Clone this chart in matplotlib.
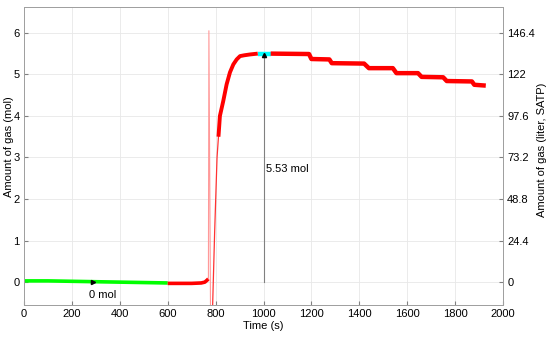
import matplotlib.pyplot as plt
import matplotlib

plt.rcParams['font.family'] = ['Liberation Sans', 'DejaVu Sans']
plt.rcParams['font.size'] = 8

# green baseline (before the valve opens)
green_t = [0, 100, 200, 300, 400, 500, 600]
green_v = [0.03, 0.03, 0.02, 0.01, 0.0, -0.01, -0.02]

# red baseline 600-770 s
base_t = [600, 650, 700, 740, 755, 765, 770]
base_v = [-0.03, -0.03, -0.03, -0.02, 0.0, 0.05, 0.08]

# pale spike around 770 s
spike_t = [770, 772, 779]
spike_v = [0.08, 6.05, -0.9]

# thin rise from below the axis
rise_t = [786, 796, 806, 818, 832]
rise_v = [-0.9, 1.2, 3.0, 4.0, 4.36]

# thick red curve after the rise, with steps
curve_t = [812, 818, 832, 846, 860, 874, 888, 902, 920, 944, 976]
curve_v = [3.5, 4.0, 4.36, 4.76, 5.05, 5.24, 5.36, 5.44, 5.46, 5.48, 5.5]

cyan_t = [976, 1030]
cyan_v = [5.5, 5.5]

step_t = [1030, 1190, 1200, 1275, 1285, 1420, 1440, 1540, 1555, 1645,
          1660, 1750, 1765, 1870, 1880, 1928]
step_v = [5.5, 5.49, 5.37, 5.36, 5.27, 5.26, 5.15, 5.15, 5.03, 5.03,
          4.94, 4.93, 4.84, 4.83, 4.75, 4.73]

# conversion mol -> liter at SATP
satp = 24.4
right_ticks = ["0", "24.4", "48.8", "73.2", "97.6", "122", "146.4"]

fig = plt.figure(figsize=(5.5, 3.37), dpi=100)
ax = fig.add_axes([0.0436, 0.095, 0.871, 0.884])

ax.plot(green_t, green_v, color="#00ff00", lw=2.6, solid_capstyle="butt")
ax.plot(base_t, base_v, color="#ff0000", lw=2.6, solid_capstyle="butt")
ax.plot(spike_t, spike_v, color="#ff9999", lw=0.8)
ax.plot(rise_t, rise_v, color="#ff3333", lw=0.9)
ax.plot(curve_t, curve_v, color="#ff0000", lw=2.8, solid_capstyle="butt")
ax.plot(cyan_t, cyan_v, color="#00ffff", lw=3.2, solid_capstyle="butt")
ax.plot(step_t, step_v, color="#ff0000", lw=3.2, solid_capstyle="butt")

# annotations
ax.plot([1000, 1000], [0.0, 5.45], color="#808080", lw=0.8)
ax.plot([1000], [5.47], marker="^", color="black", ms=3)
ax.text(1012, 2.72, "5.53 mol", ha="left", va="center", fontsize=8)
ax.plot([290], [0.0], marker=">", color="black", ms=3)
ax.text(272, -0.3, "0 mol", ha="left", va="center", fontsize=8)

ax.set_xlim(0, 2000)
ax.set_ylim(-0.55, 6.62)
ax.set_xticks(range(0, 2001, 200))
ax.set_yticks(range(0, 7))
ax.set_xlabel("Time (s)", labelpad=1)
ax.set_ylabel("Amount of gas (mol)")
ax.yaxis.set_label_coords(-0.021, 0.53)
ax.grid(True, color="#e8e8e8", lw=0.6)
ax.tick_params(direction="in", length=3, color="#808080", pad=3)
for s in ax.spines.values():
    s.set_color("#a0a0a0")
    s.set_linewidth(0.7)

ax2 = ax.twinx()
ax2.set_ylim(-0.55 * satp, 6.62 * satp)
ax2.set_yticks([i * satp for i in range(7)])
ax2.set_yticklabels(right_ticks)
ax2.set_ylabel("Amount of gas (liter, SATP)")
ax2.yaxis.set_label_coords(1.071, 0.52)
ax2.tick_params(direction="in", length=3, color="#808080", pad=3)
for s in ax2.spines.values():
    s.set_color("#a0a0a0")
    s.set_linewidth(0.7)

fig.savefig("out.png", dpi=100)
